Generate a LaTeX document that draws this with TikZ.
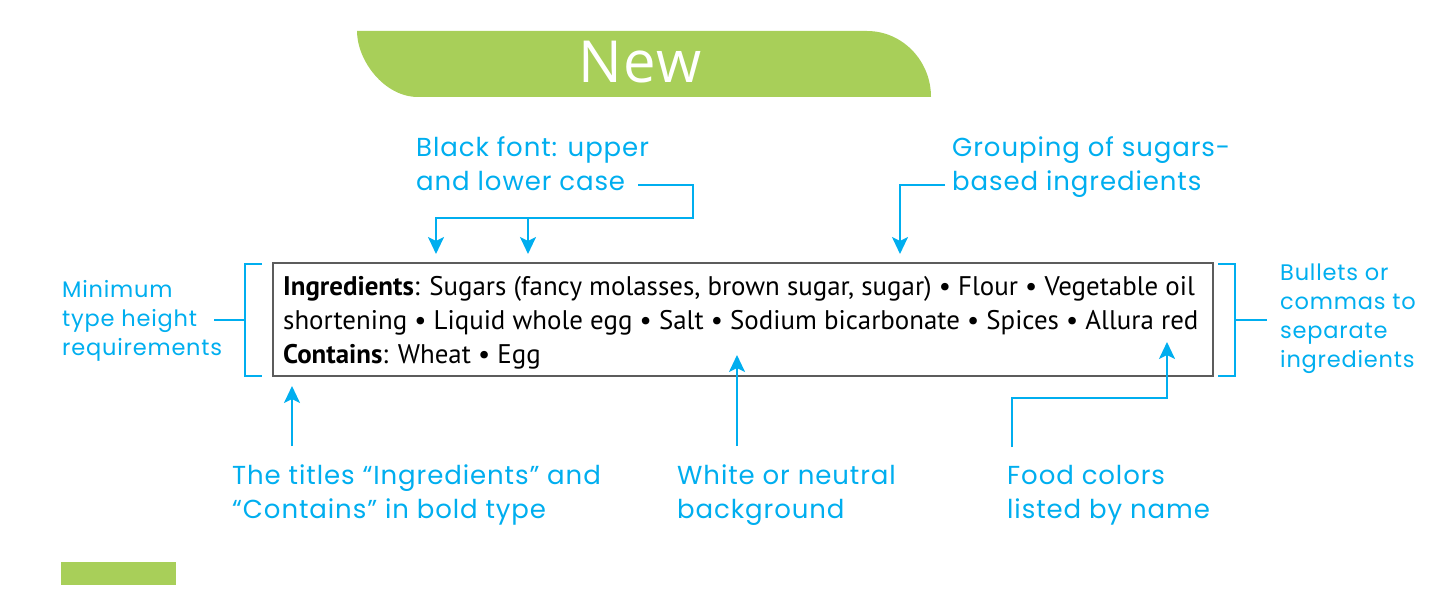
\documentclass[tikz,border=0pt]{standalone}
\usepackage{fontspec}
\usepackage{tikz}
\usetikzlibrary{arrows.meta,positioning}
\newfontfamily\notefont[LetterSpace=3.5]{Poppins}
\newfontfamily\panelfont{PT Sans}
\newfontfamily\bannerfont[LetterSpace=2]{Open Sans}
\definecolor{leafgreen}{HTML}{A8CF59}
\definecolor{noteblue}{HTML}{00AEEF}
\definecolor{panelgray}{HTML}{5C5C5C}

\begin{document}
\begin{tikzpicture}[x=1pt,y=-1pt,>={Stealth[length=17pt,width=16pt,inset=4pt]},
  note/.style={text=noteblue,font=\notefont\fontsize{26}{34}\selectfont,align=left,anchor=base west,inner sep=0pt},
  sidenote/.style={note,font=\notefont\fontsize{22.5}{28.7}\selectfont},
  link/.style={draw=noteblue,line width=2.4pt},
  panel/.style={draw=panelgray,line width=1.8pt,minimum width=940pt,minimum height=113pt,inner sep=0pt}]
\useasboundingbox (0,0) rectangle (1454,596);
% banner
\fill[leafgreen] (357,31) -- (867,31) .. controls (902.3,31) and (931,60.6) .. (931,97)
  -- (418,97) .. controls (384.3,97) and (357,60.6) .. (357,31) -- cycle;
\node[text=white,font=\bannerfont\fontsize{58}{60}\selectfont,inner sep=0pt,anchor=base] (new) at (640,83) {New};
\fill[leafgreen] (61,562) rectangle (176,585);
% the label panel
\node[panel] (panel) at (743,319.5) {};
\node[anchor=base west,inner sep=0pt,align=left,font=\panelfont\fontsize{26.9}{34}\selectfont] (ingr) at (283,363)
  {\textbf{Ingredients}: Sugars (fancy molasses, brown sugar, sugar) • Flour • Vegetable oil\\
   shortening • Liquid whole egg • Salt • Sodium bicarbonate • Spices • Allura red\\
   \textbf{Contains}: Wheat • Egg};
% brackets
\draw[link] (262,264) -- (245,264) -- (245,376) -- (262,376);
\draw[link] (1218,264) -- (1235,264) -- (1235,376) -- (1218,376);
% notes (placed at the baseline of their last line)
\node[note] (case) at (416,191) {Black font: upper\\and lower case};
\node[note] (sugars) at (952,191) {Grouping of sugars-\\based ingredients};
\node[sidenote] (height) at (62,355) {Minimum\\type height\\requirements};
\node[sidenote] (bullets) at (1280,367) {Bullets or\\commas to\\separate\\ingredients};
\node[note] (titles) at (232,518) {The titles “Ingredients” and\\“Contains” in bold type};
\node[note] (backgr) at (677,518) {White or neutral\\background};
\node[note] (colors) at (1007,518) {Food colors\\listed by name};
% connector ends
\coordinate (caseA) at (638,185);
\coordinate (caseB) at (436,254);
\coordinate (caseC) at (528,254);
\coordinate (sugarsA) at (945,185);
\coordinate (sugarsB) at (900,254);
\coordinate (heightA) at (214,320);
\coordinate (bulletsA) at (1267,320);
\coordinate (titlesA) at (292,446);
\coordinate (titlesB) at (292,386);
\coordinate (backgrA) at (737,446);
\coordinate (backgrB) at (737,355);
\coordinate (colorsA) at (1012,447);
\coordinate (colorsB) at (1167,342);
% connectors
\draw[link,->] (caseA) -| (693,218) -| (caseB);
\draw[link,->] (caseC |- 0,218) -- (caseC);
\draw[link,->] (sugarsA) -| (sugarsB);
\draw[link] (heightA) -- (245,320);
\draw[link] (1235,320) -- (bulletsA);
\draw[link,->] (titlesA) -- (titlesB);
\draw[link,->] (backgrA) -- (backgrB);
\draw[link,->] (colorsA) |- (1100,398) -| (colorsB);
\end{tikzpicture}
\end{document}
